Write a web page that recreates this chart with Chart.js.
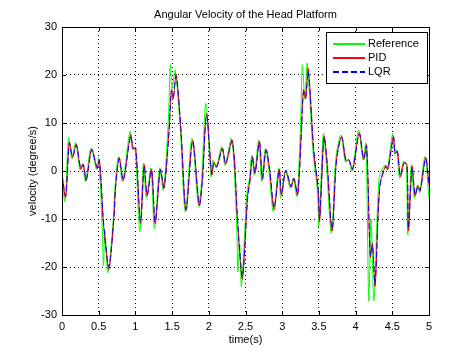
<!DOCTYPE html>
<html>
<head>
<meta charset="utf-8">
<script src="https://cdn.jsdelivr.net/npm/chart.js@4/dist/chart.umd.min.js"></script>
<style>
  html, body { margin: 0; padding: 0; background: #fff; }
  #box { width: 474px; height: 354px; }
</style>
</head>
<body>
<div id="box"><canvas id="chart" width="474" height="354"></canvas></div>
<script>
let chartTitle = "Angular Velocity of the Head Platform";
let xTitle = "time(s)";
let yTitle = "velocity (degree/s)";
let seriesNames = ["Reference", "PID", "LQR"];

// reference signal
let refTime = [0.00, 0.04, 0.09, 0.135, 0.185, 0.245, 0.28, 0.32, 0.395, 0.47, 0.50, 0.55, 0.565, 0.585, 0.625,
    0.70, 0.72, 0.77, 0.825, 0.925, 0.96, 0.995, 1.06, 1.11, 1.15, 1.21, 1.26, 1.33, 1.38, 1.45, 1.475,
    1.50, 1.54, 1.61, 1.68, 1.77, 1.86, 1.90, 1.96, 2.03, 2.06, 2.10, 2.175, 2.22, 2.31, 2.38, 2.395,
    2.42, 2.445, 2.52, 2.55, 2.585, 2.62, 2.68, 2.72, 2.77, 2.82, 2.88, 2.95, 2.98, 3.04, 3.11, 3.15,
    3.20, 3.25, 3.275, 3.31, 3.34, 3.42, 3.48, 3.50, 3.56, 3.60, 3.67, 3.73, 3.80, 3.86, 3.90, 3.95,
    4.04, 4.10, 4.14, 4.18, 4.21, 4.25, 4.32, 4.40, 4.43, 4.505, 4.53, 4.56, 4.60, 4.65, 4.69, 4.71,
    4.76, 4.80, 4.84, 4.87, 4.945, 5.00];
let reference = [-1, -6.3, 6.9, 2.5, 6.0, 0.2, 1.6, -2.2, 4.8, 0.3, 2.7, -12.6, -19.8, -12.5, -21.2,
    -9.8, -3.5, 3.0, -2.2, 8.2, 4.4, 5.0, -12.6, 1.6, -5.7, 0.6, -12.0, 0.6, -4.0, 11, 22.1,
    17, 21, 9, -8.5, 6.8, -7.4, -2.2, 14.1, -1.2, 2.3, 0.6, 5.1, 1.25, 6.8, -11.3, -21,
    -15, -24, -4.3, -2.0, 3.3, -0.8, 6.5, -2.2, 4.7, -0.1, -8.5, 0.6, -5.7, 0, -3.6, -1.5,
    -5.3, 9.6, 22.1, 15, 22.4, 4.0, -4.3, -11.5, 7.8, 1.7, -13, 2.6, 7.5, 1.9, 2.5, 0,
    8.5, 2.3, 5.8, -27, -10, -27, -1.5, 1.25, 0.2, 7.8, 3.5, 4.4, -1.5, 2.0, 1.5, -13.3,
    1.25, -5.7, -3.0, -4.5, 3.0, -5.7];

// controller responses (lag the reference a little)
let ctrlTime = [0.00, 0.05, 0.10, 0.145, 0.195, 0.255, 0.29, 0.33, 0.405, 0.48, 0.51, 0.56, 0.59, 0.64,
    0.71, 0.73, 0.78, 0.835, 0.935, 0.97, 1.005, 1.07, 1.12, 1.16, 1.22, 1.27, 1.34, 1.39, 1.46, 1.49,
    1.515, 1.555, 1.62, 1.69, 1.78, 1.87, 1.91, 1.97, 2.04, 2.07, 2.11, 2.185, 2.23, 2.32, 2.39, 2.42,
    2.46, 2.53, 2.56, 2.595, 2.63, 2.69, 2.73, 2.78, 2.83, 2.89, 2.96, 2.99, 3.05, 3.12, 3.16, 3.21,
    3.26, 3.29, 3.32, 3.355, 3.43, 3.49, 3.51, 3.57, 3.61, 3.68, 3.74, 3.81, 3.87, 3.91, 3.96, 4.05,
    4.11, 4.15, 4.20, 4.23, 4.265, 4.33, 4.41, 4.44, 4.515, 4.54, 4.57, 4.61, 4.66, 4.70, 4.72, 4.77,
    4.81, 4.85, 4.88, 4.955, 5.00];
let pid = [-0.5, -5.5, 6.0, 2.8, 5.6, 0.4, 1.4, -2.0, 4.6, 0.5, 2.4, -10, -15, -20.5,
    -9, -3.2, 2.8, -2.0, 7.6, 4.6, 4.8, -11, 1.3, -5.2, 0.4, -11, 0.4, -3.6, 9, 17,
    15, 20.2, 8.5, -8.2, 6.4, -7.2, -2.4, 12, -0.8, 1.8, 0.8, 4.8, 1.4, 6.4, -10, -17,
    -22.5, -5, -2, 3, -0.5, 6.2, -1.8, 4.5, 0, -8, 0.4, -5, 0, -3.4, -1.5, -5,
    8, 17, 15, 21.3, 4, -4, -10.5, 7.2, 2, -12.5, 2.4, 7.2, 2, 2.4, 0.2, 8.0,
    2.4, 5.4, -18, -15, -24, -3, 1.1, 0.3, 7.2, 3.6, 4.2, -1.2, 1.8, 1.2, -12.5, 1.0,
    -5.2, -3, -4.2, 2.8, -3];
let lqr = [-0.8, -5.2, 5.8, 3.0, 5.4, 0.6, 1.3, -1.8, 4.4, 0.7, 2.2, -9.5, -14.5, -20,
    -9.2, -3.4, 2.6, -1.8, 7.3, 4.8, 4.6, -10.5, 1.1, -5.0, 0.2, -10.6, 0.2, -3.4, 8.5, 16.5,
    15.2, 19.8, 8.8, -8.0, 6.2, -7.0, -2.6, 11.5, -0.6, 1.6, 1.0, 4.6, 1.6, 6.2, -9.5, -16.5,
    -22, -5.4, -2.2, 2.8, -0.3, 6.0, -1.6, 4.3, 0.2, -7.6, 0.2, -4.8, 0.2, -3.2, -1.6, -4.8,
    7.5, 16.5, 15.4, 20.8, 4.4, -3.8, -10, 7.0, 2.2, -12, 2.2, 7.0, 2.2, 2.2, 0.4, 7.7,
    2.6, 5.2, -17.5, -15.5, -23.5, -3.4, 1.0, 0.5, 7.0, 3.8, 4.0, -1.0, 1.6, 1.4, -12, 0.8,
    -5.0, -3.2, -4.0, 2.6, -2.6];

let xTicks = [0, 0.5, 1, 1.5, 2, 2.5, 3, 3.5, 4, 4.5, 5];
let yTicks = [-30, -20, -10, 0, 10, 20, 30];
let lineColors = ["#00ff00", "#ff0000", "#0000ff"];

let font = "11px 'Liberation Sans', Arial, sans-serif";

function pts(t, v) {
    return t.map((x, i) => ({ x: x, y: v[i] }));
}

// title, axis labels, box, inward ticks and the legend
let decor = {
    id: "decor",
    afterDatasetsDraw(chart) {
        let c = chart.ctx;
        let a = chart.chartArea;
        let xs = chart.scales.x, ys = chart.scales.y;
        c.save();
        c.strokeStyle = "#000";
        c.lineWidth = 1;
        c.setLineDash([]);
        c.beginPath();
        xTicks.forEach(t => {
            let px = Math.round(xs.getPixelForValue(t)) + 0.5;
            c.moveTo(px, a.bottom); c.lineTo(px, a.bottom - 4);
            c.moveTo(px, a.top); c.lineTo(px, a.top + 4);
        });
        yTicks.forEach(t => {
            let py = Math.round(ys.getPixelForValue(t)) + 0.5;
            c.moveTo(a.left, py); c.lineTo(a.left + 4, py);
            c.moveTo(a.right, py); c.lineTo(a.right - 4, py);
        });
        c.stroke();
        c.strokeRect(Math.round(a.left) + 0.5, Math.round(a.top) + 0.5,
            Math.round(a.right - a.left), Math.round(a.bottom - a.top));

        c.fillStyle = "#000";
        c.font = font;
        c.textAlign = "center";
        c.textBaseline = "middle";
        c.fillText(chartTitle, (a.left + a.right) / 2, 15);
        c.fillText(xTitle, (a.left + a.right) / 2, 340);
        c.save();
        c.translate(33, (a.top + a.bottom) / 2);
        c.rotate(-Math.PI / 2);
        c.fillText(yTitle, 0, 0);
        c.restore();

        // legend box
        c.fillStyle = "#fff";
        c.fillRect(326.5, 32.5, 101, 51);
        c.strokeStyle = "#000";
        c.strokeRect(326.5, 32.5, 101, 51);
        for (let i = 0; i < seriesNames.length; i++) {
            let y = 44 + i * 14;
            c.beginPath();
            c.strokeStyle = lineColors[i];
            c.lineWidth = 2;
            c.setLineDash(i == 2 ? [6, 3] : []);
            c.moveTo(333, y);
            c.lineTo(365, y);
            c.stroke();
            c.fillStyle = "#000";
            c.textAlign = "left";
            c.fillText(seriesNames[i], 368, y - 0.5);
        }
        c.restore();
    }
};

let chart = new Chart(document.getElementById("chart").getContext("2d"), {
    type: "line",
    data: {
        datasets: [
            { label: seriesNames[0], data: pts(refTime, reference), borderColor: lineColors[0], order: 3 },
            { label: seriesNames[1], data: pts(ctrlTime, pid), borderColor: lineColors[1], order: 2 },
            { label: seriesNames[2], data: pts(ctrlTime, lqr), borderColor: lineColors[2], borderDash: [6, 3], order: 1 }
        ].map(ds => Object.assign(ds, { borderWidth: 1, pointRadius: 0, tension: 0.3, fill: false }))
    },
    options: {
        responsive: false,
        animation: false,
        events: [],
        layout: { padding: { top: 27, right: 45, bottom: 0, left: 0 } },
        plugins: { legend: { display: false }, tooltip: { enabled: false } },
        scales: {
            x: {
                type: "linear", min: 0, max: 5,
                afterBuildTicks: s => { s.ticks = xTicks.map(v => ({ value: v })); },
                afterFit: s => { s.height = 39; },
                grid: { color: "#000", lineWidth: 1, drawTicks: false },
                border: { display: false, dash: [1, 3] },
                ticks: {
                    padding: 5, color: "#000", maxRotation: 0,
                    font: { family: "'Liberation Sans', Arial", size: 11 },
                    callback: v => String(v)
                }
            },
            y: {
                min: -30, max: 30,
                afterBuildTicks: s => { s.ticks = yTicks.map(v => ({ value: v })); },
                afterFit: s => { s.width = 62; },
                grid: { color: "#000", lineWidth: 1, drawTicks: false },
                border: { display: false, dash: [1, 3] },
                ticks: {
                    padding: 5, color: "#000",
                    font: { family: "'Liberation Sans', Arial", size: 11 },
                    callback: v => String(v)
                }
            }
        }
    },
    plugins: [decor]
});
</script>
</body>
</html>
